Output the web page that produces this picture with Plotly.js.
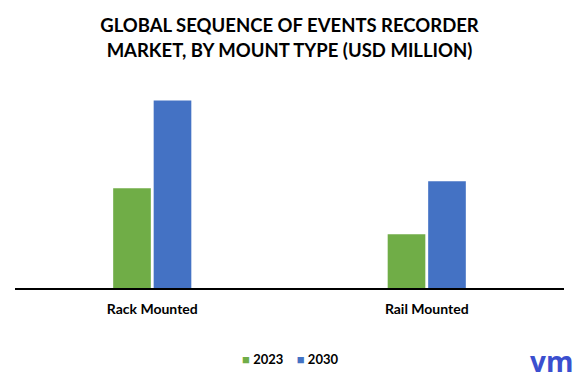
<!DOCTYPE html>
<html>
<head>
<meta charset="utf-8">
<script src="https://cdn.plot.ly/plotly-3.0.1.min.js"></script>
<style>html,body{margin:0;padding:0;background:#fff;}#chart{width:579px;height:382px;}</style>
</head>
<body>
<div id="chart"></div>
<script>
const categories = ["Rack Mounted", "Rail Mounted"];
const series2023 = [100, 54];
const series2030 = [188, 107];
const seriesNames = ["2023", "2030"];
const seriesColors = ["#70AD47", "#4472C4"];

const traces = [
  {type: "bar", name: seriesNames[0], x: categories, y: series2023, marker: {color: seriesColors[0]}, hoverinfo: "none"},
  {type: "bar", name: seriesNames[1], x: categories, y: series2030, marker: {color: seriesColors[1]}, hoverinfo: "none"}
];

const legendText = seriesNames.map((n, i) =>
  '<span style="color:' + seriesColors[i] + '">\u25A0</span> <b>' + n + '</b>'
).join('&nbsp;&nbsp;&nbsp;&nbsp;');

const layout = {
  width: 579, height: 382,
  margin: {l: 15, r: 15, t: 80, b: 93.5},
  paper_bgcolor: "#fff", plot_bgcolor: "#fff",
  font: {family: "Lato, 'Open Sans', sans-serif", color: "#000"},
  showlegend: false,
  title: {
    text: "<b>GLOBAL SEQUENCE OF EVENTS RECORDER<br>MARKET, BY MOUNT TYPE (USD MILLION)</b>",
    font: {size: 18.5, family: "Lato, 'Open Sans', sans-serif", color: "#000"},
    x: 0.5, xanchor: "center", y: 0.915, yanchor: "middle", yref: "container"
  },
  barmode: "group",
  bargap: 0.705,
  bargroupgap: 0.07,
  xaxis: {
    showline: true, linecolor: "#000", linewidth: 1.5,
    showgrid: false, zeroline: false, ticks: "",
    tickfont: {size: 14, family: "Lato, 'Open Sans', sans-serif", color: "#000", weight: "bold"},
    ticklabelstandoff: 8
  },
  yaxis: {visible: false, range: [0, 208.5], showgrid: false, zeroline: false},
  annotations: [
    {
      text: legendText, xref: "paper", yref: "paper", x: 0.5, y: -0.34,
      xanchor: "center", yanchor: "middle", showarrow: false,
      font: {size: 13, family: "Lato, 'Open Sans', sans-serif", color: "#000"}
    },
    {
      text: "<b>vm</b>", xref: "paper", yref: "paper", x: 1.02, y: -0.35,
      xanchor: "right", yanchor: "middle", showarrow: false,
      font: {size: 28, family: "'Open Sans', sans-serif", color: "#3B4FCF"}
    }
  ]
};

Plotly.newPlot("chart", traces, layout, {displayModeBar: false, staticPlot: true});
</script>
</body>
</html>
